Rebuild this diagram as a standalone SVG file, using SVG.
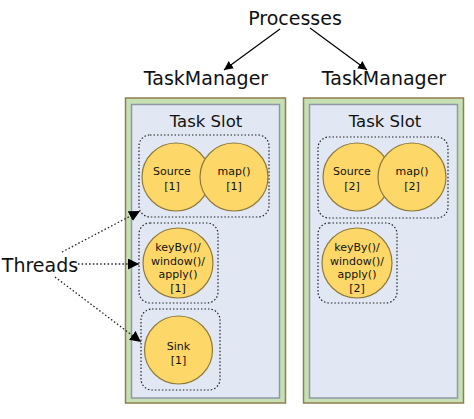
<svg xmlns="http://www.w3.org/2000/svg" width="474" height="419" viewBox="0 0 474 419">
<style>
text{font-family:"DejaVu Sans","Verdana",sans-serif;fill:#111;text-anchor:middle}
.big{font-size:19px}
.slot{font-size:16.5px}
.op{font-size:11px}
.tm{fill:#c6e0b4;stroke:#8f7f4e;stroke-width:1.5}
.ts{fill:#e1e8f3;stroke:#8f99a6;stroke-width:1.5}
.grp{fill:none;stroke:#222;stroke-width:1.2;stroke-dasharray:1.5 2}
.c{fill:#fdd868;stroke:#8f7a3c;stroke-width:1.2}
.solid{stroke:#000;stroke-width:1.2;fill:none}
.dot{stroke:#222;stroke-width:1.3;fill:none;stroke-dasharray:1.5 2.2}
</style>
<defs>
<marker id="ah" viewBox="0 0 10 10" refX="10" refY="5" markerWidth="9" markerHeight="9" markerUnits="userSpaceOnUse" orient="auto"><path d="M0,0 L10,5 L0,10 z" fill="#000"/></marker>
<marker id="ah2" viewBox="0 0 10 10" refX="10" refY="5" markerWidth="11" markerHeight="11" markerUnits="userSpaceOnUse" orient="auto"><path d="M0,0 L10,5 L0,10 z" fill="#000"/></marker>
</defs>
<g id="processes"><text class="big" x="295" y="25">Processes</text></g>
<g id="threads"><text class="big" x="40" y="272">Threads</text></g>
<g id="tm1">
<text class="big" x="206" y="85">TaskManager</text>
<rect class="tm" x="125.5" y="98" width="160" height="305"/>
<rect class="ts" x="131.5" y="104.5" width="148" height="293.5"/>
<text class="slot" x="206" y="127">Task Slot</text>
</g>
<g id="tm2">
<text class="big" x="384" y="85">TaskManager</text>
<rect class="tm" x="303.5" y="98" width="160" height="305"/>
<rect class="ts" x="309.5" y="104.5" width="148" height="293.5"/>
<text class="slot" x="385" y="127">Task Slot</text>
</g>
<g id="slot1-group1">
<rect class="grp" x="139" y="135" width="130" height="82" rx="11"/>
<circle class="c" cx="176" cy="177" r="34"/>
<circle class="c" cx="234" cy="177" r="34"/>
<text class="op" x="172" y="175">Source</text><text class="op" x="172" y="190">[1]</text>
<text class="op" x="234" y="175">map()</text><text class="op" x="234" y="190">[1]</text>
</g>
<g id="slot1-group2">
<rect class="grp" x="139" y="223" width="79" height="80" rx="11"/>
<circle class="c" cx="178" cy="263" r="35"/>
<text class="op" x="178" y="251">keyBy()/</text>
<text class="op" x="178" y="264.5">window()/</text>
<text class="op" x="178" y="278">apply()</text>
<text class="op" x="178" y="291.5">[1]</text>
</g>
<g id="slot1-group3">
<rect class="grp" x="141" y="309" width="79" height="81" rx="11"/>
<circle class="c" cx="178.5" cy="350" r="34"/>
<text class="op" x="178.5" y="350">Sink</text>
<text class="op" x="178.5" y="364">[1]</text>
</g>
<g id="slot2-group1">
<rect class="grp" x="318" y="137" width="130" height="81" rx="11"/>
<circle class="c" cx="357" cy="177" r="34"/>
<circle class="c" cx="412" cy="177" r="34"/>
<text class="op" x="352" y="175">Source</text><text class="op" x="352" y="190">[2]</text>
<text class="op" x="412" y="175">map()</text><text class="op" x="412" y="190">[2]</text>
</g>
<g id="slot2-group2">
<rect class="grp" x="318" y="223" width="79" height="80" rx="11"/>
<circle class="c" cx="357" cy="263" r="35"/>
<text class="op" x="357" y="251">keyBy()/</text>
<text class="op" x="357" y="264.5">window()/</text>
<text class="op" x="357" y="278">apply()</text>
<text class="op" x="357" y="291.5">[2]</text>
</g>
<g id="connectors">
<line class="solid" x1="280" y1="29" x2="224" y2="70" marker-end="url(#ah)"/>
<line class="solid" x1="310" y1="28" x2="367" y2="70" marker-end="url(#ah)"/>
<line class="dot" x1="62" y1="252" x2="140" y2="211" marker-end="url(#ah2)"/>
<line class="dot" x1="78" y1="264" x2="139" y2="264" marker-end="url(#ah2)"/>
<line class="dot" x1="55" y1="277" x2="141" y2="342" marker-end="url(#ah2)"/>
</g>
</svg>
